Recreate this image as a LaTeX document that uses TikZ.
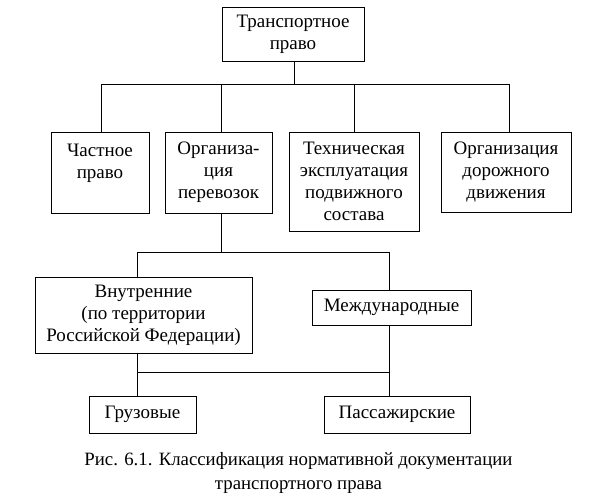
\documentclass[tikz,border=0pt]{standalone}
\usepackage{fontspec}
\setmainfont{Liberation Serif}
\begin{document}
\begin{tikzpicture}[x=1pt,y=-1pt,
  box/.style={draw,line width=1pt,inner sep=0pt,align=center,
    font=\fontsize{19}{21.8}\selectfont},
  conn/.style={line width=1pt}]
\useasboundingbox (0,0) rectangle (596,503);
\node[box,minimum width=142pt,minimum height=53pt] (top) at (293,34.5) {Транспортное\\право};
\node[box,minimum width=98pt,minimum height=81pt] (b1) at (100,172.5) {Частное\\право\\\phantom{п}};
\node[box,minimum width=107pt,minimum height=81pt] (b2) at (218.5,172.5) {Организа-\\ция\\перевозок};
\node[box,minimum width=130pt,minimum height=99pt] (b3) at (354,181.5) {Техническая\\эксплуатация\\подвижного\\состава};
\node[box,minimum width=130pt,minimum height=80pt] (b4) at (506,172) {Организация\\дорожного\\движения};
\node[box,minimum width=217pt,minimum height=76pt] (vn) at (143.5,315) {Внутренние\\(по территории\\Российской Федерации)};
\node[box,minimum width=159pt,minimum height=35pt] (md) at (391.5,307.5) {Международные};
\node[box,minimum width=107pt,minimum height=37pt] (gr) at (142.5,414.5) {Грузовые};
\node[box,minimum width=146pt,minimum height=37pt] (ps) at (397,414.5) {Пассажирские};
\node[align=center,font=\fontsize{18.8}{24}\selectfont] (cap) at (298.5,473) {Рис. 6.1. Классификация нормативной документации\\транспортного права};
\coordinate (bus1) at (0,84.5);
\coordinate (bus2L) at (137.5,252.5);
\coordinate (bus2R) at (389.5,252.5);
\coordinate (bus3L) at (137.5,372.5);
\coordinate (bus3R) at (389.5,372.5);
\draw[conn] ([xshift=1pt]top.south) -- ([xshift=1pt]top.south |- bus1);
\draw[conn] ([xshift=1pt]b1.north) -- ([xshift=1pt]b1.north |- bus1) -- ([xshift=3.5pt]b4.north |- bus1) -- ([xshift=3.5pt]b4.north);
\draw[conn] ([xshift=3pt]b2.north) -- ([xshift=3pt]b2.north |- bus1);
\draw[conn] ([xshift=0.5pt]b3.north) -- ([xshift=0.5pt]b3.north |- bus1);
\draw[conn] ([xshift=3pt]b2.south) -- ([xshift=3pt]b2.south |- bus2L);
\draw[conn] (bus2L |- vn.north) -- (bus2L) -- (bus2R) -- (bus2R |- md.north);
\draw[conn] (bus3L |- vn.south) -- (bus3L |- gr.north);
\draw[conn] (bus3L) -- (bus3R);
\draw[conn] (bus3R |- md.south) -- (bus3R |- ps.north);
\end{tikzpicture}
\end{document}
